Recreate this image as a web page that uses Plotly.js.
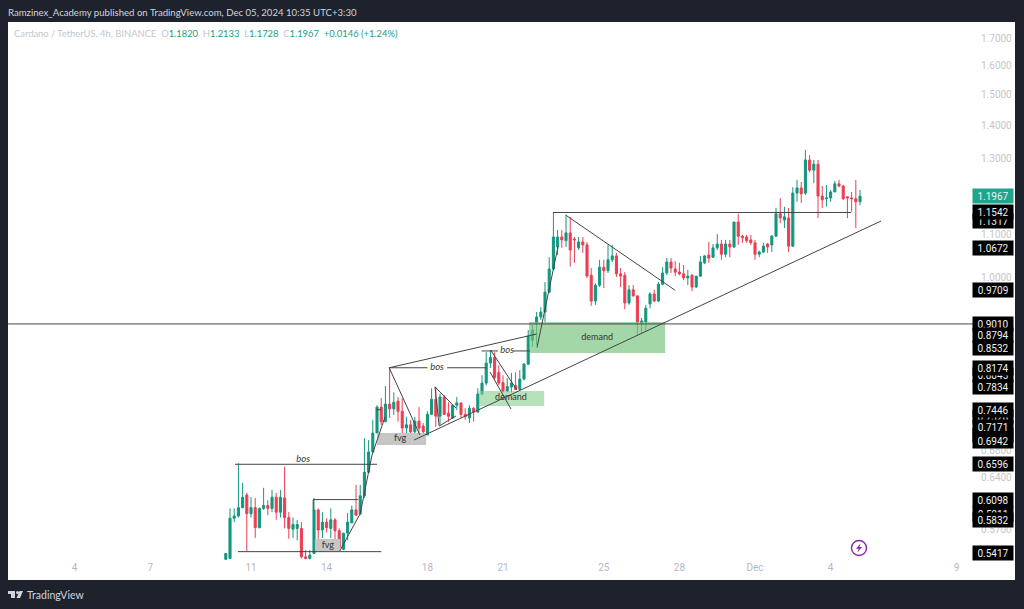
<!DOCTYPE html>
<html>
<head>
<meta charset="utf-8">
<script src="https://cdn.plot.ly/plotly-3.0.1.min.js"></script>
<style>html,body{margin:0;padding:0;background:#1e222d;overflow:hidden}</style>
</head>
<body>
<div id="chart" style="width:1024px;height:609px"></div>
<script>
// ---------- candle values (4h ADA/USDT), first bar 2024-11-10 00:00 ----------
const opens = [.534,
.535,.585,.588,.599,.616,.591,.599,.573,.598,.602,
.598,.613,.593,.612,.586,.571,.572,.572,.537,.535,
.541,.596,.570,.580,.572,.583,.569,.546,.566,.579,
.596,.591,.615,.648,.678,.707,.749,.725,.754,.746,
.759,.742,.715,.720,.709,.726,.718,.704,.737,.762,
.734,.766,.739,.731,.752,.756,.737,.731,.747,.741,
.771,.790,.826,.836,.809,.791,.776,.783,.786,.779,
.797,.824,.869,.903,.915,.925,.967,1.018,1.069,1.093,
1.084,1.103,1.088,1.067,1.081,1.074,1.004,.948,.982,1.022,
1.014,1.039,1.048,1.007,1.004,.944,.972,.959,.903,.905,
.942,.963,.948,.984,1.009,1.034,1.018,1.011,1.007,.998,
1.004,.978,1.002,1.032,1.050,1.045,1.067,1.076,1.052,1.076,
1.069,1.130,1.095,1.093,1.086,1.079,1.052,1.057,1.076,1.074,
1.095,1.151,1.135,1.140,1.071,1.205,1.219,1.205,1.297,1.268,
1.285,1.197,1.190,1.192,1.208,1.230,1.224,1.195,1.192,1.190,
1.1820];
const highs = [.541,
.598,.598,.661,.633,.619,.613,.612,.599,.626,.609,
.623,.619,.623,.656,.593,.586,.583,.580,.545,.545,
.612,.598,.593,.585,.598,.585,.572,.566,.592,.602,
.630,.630,.699,.696,.728,.752,.764,.785,.817,.774,
.766,.764,.733,.728,.733,.749,.723,.742,.781,.783,
.772,.769,.757,.752,.766,.756,.747,.752,.749,.781,
.804,.846,.850,.846,.822,.804,.799,.808,.809,.813,
.826,.889,.899,.925,.935,.989,1.045,1.155,1.110,1.110,
1.148,1.143,1.093,1.093,1.093,1.081,1.020,.986,1.039,1.039,
1.074,1.074,1.055,1.020,1.011,.982,.982,.959,.913,.940,
.967,.972,.989,1.022,1.043,1.043,1.036,1.032,1.027,1.016,
1.007,1.002,1.048,1.050,1.081,1.076,1.100,1.086,1.086,1.086,
1.130,1.151,1.098,1.098,1.098,1.086,1.060,1.079,1.079,1.098,
1.166,1.192,1.169,1.166,1.221,1.241,1.235,1.326,1.311,1.297,
1.297,1.224,1.227,1.213,1.238,1.241,1.227,1.195,1.208,1.241,
1.2133];
const lows = [.534,
.535,.580,.586,.598,.544,.586,.560,.572,.596,.589,
.593,.583,.586,.572,.559,.560,.557,.535,.534,.534,
.541,.557,.560,.567,.560,.557,.545,.545,.557,.579,
.589,.589,.612,.647,.676,.707,.720,.725,.731,.736,
.725,.707,.707,.707,.707,.707,.704,.704,.736,.717,
.720,.736,.725,.730,.744,.731,.728,.723,.725,.739,
.769,.786,.817,.795,.786,.774,.774,.774,.778,.778,
.795,.822,.856,.860,.909,.905,.965,1.016,1.050,1.067,
1.069,1.023,1.032,1.062,1.055,.998,.938,.940,.978,.976,
1.009,1.034,1.000,.978,.931,.940,.957,.879,.883,.885,
.933,.946,.946,.982,1.004,1.009,1.002,1.004,.993,.982,
.969,.976,1.000,1.029,1.032,1.043,1.062,1.039,1.045,1.045,
1.067,1.074,1.079,1.079,1.074,1.039,1.045,1.055,1.055,1.057,
1.093,1.127,1.115,1.057,1.069,1.182,1.179,1.200,1.262,1.232,
1.140,1.166,1.169,1.182,1.208,1.221,1.187,1.140,1.156,1.115,
1.1728];
const closes = [.541,
.585,.588,.599,.613,.591,.599,.573,.598,.602,.598,
.613,.593,.613,.586,.572,.577,.577,.537,.535,.539,
.596,.570,.580,.573,.583,.569,.548,.566,.580,.596,
.589,.615,.648,.678,.707,.749,.725,.754,.746,.757,
.742,.715,.720,.709,.726,.715,.709,.737,.762,.734,
.766,.737,.734,.752,.756,.737,.733,.747,.741,.771,
.790,.826,.836,.800,.790,.776,.784,.790,.779,.797,
.824,.877,.889,.915,.925,.967,1.018,1.093,1.093,1.086,
1.103,1.062,1.086,1.081,1.074,1.002,.948,.982,1.022,1.014,
1.039,1.048,1.007,1.002,.944,.972,.959,.905,.907,.933,
.963,.948,.984,1.009,1.034,1.020,1.011,1.007,.998,1.002,
.978,1.002,1.034,1.048,1.043,1.067,1.076,1.052,1.076,1.069,
1.130,1.095,1.091,1.084,1.079,1.052,1.057,1.071,1.069,1.095,
1.151,1.140,1.143,1.071,1.205,1.219,1.203,1.297,1.268,1.285,
1.197,1.187,1.192,1.208,1.230,1.224,1.190,1.192,1.190,1.182,
1.1967];

// ---------- axis labels ----------
const priceTicks = [1.7,1.6,1.5,1.4,1.3,1.1,1.0,0.68,0.64,0.57];
const dayTicks = ['2024-11-04','2024-11-07','2024-11-11','2024-11-14','2024-11-18','2024-11-21','2024-11-25','2024-11-28','2024-12-01','2024-12-04','2024-12-09'];
const dayLabels = ['4','7','11','14','18','21','25','28','Dec','4','9'];
const priceBoxesHidden = ['1.1317','0.8045','0.7326','0.7040','0.5911'];
const priceBoxes = ['0.9010','0.8794','0.8532','1.1542','1.0672','0.9709','0.8174','0.7834','0.7446','0.7171','0.6942','0.6596','0.6098','0.5832','0.5417'];
const lastPrice = '1.1967';

// ---------- drawings: bar number (4h bars) and price ----------
const bosLowLine   = {bar:[1.2,35],           price:[.6596,.6596]};
const floorLine    = {bar:[1.9,36],           price:[.5432,.5432]};
const boxTopLine   = {bar:[19.8,19.8,30.5],   price:[.596,.6098,.6098]};
const impulseCurve = {bar:[26.1,31,33.8,36.9],price:[.5437,.5911,.673,.7326]};
const hookLine     = {bar:[34.8,36],          price:[.7446,.7446]};
const peakDrop     = {bar:[37.9,45.2],        price:[.8174,.704]};
const bosMidLeft   = {bar:[37.9,47],          price:[.8174,.8174]};
const bosMidRight  = {bar:[51.7,61],          price:[.8174,.8174]};
const peakRise     = {bar:[37.9,73],          price:[.8174,.881]};
const bosUpLeft    = {bar:[59.9,63.8],        price:[.8485,.8485]};
const bosUpRight   = {bar:[67.4,71.4],        price:[.8485,.8485]};
const triangle     = {bar:[53.8,48.8,49.8,53.8],price:[.7474,.7834,.7181,.7343]};
const mainTrend    = {bar:[43.8,155],         price:[.696,1.1325]};
const flagTop      = {bar:[62.1,68.3],        price:[.8498,.778]};
const flagLow      = {bar:[61.9,66.9],        price:[.8097,.7458]};
const breakout     = {bar:[73.1,78.1],        price:[.855,1.07]};
const topLine      = {bar:[76.9,147.9],       price:[1.1542,1.1542]};
const descending   = {bar:[79.9,106],         price:[1.1477,.9709]};
const levelLine    = {bar:[-54,178],          price:[.9010,.9010]};
const lineDrawings = [bosLowLine,floorLine,boxTopLine,impulseCurve,hookLine,peakDrop,bosMidLeft,bosMidRight,peakRise,bosUpLeft,bosUpRight,triangle,mainTrend,flagTop,flagLow,breakout,topLine,descending,levelLine];

const zones = [
  {bar:[20.2,26.2],  price:[.5437,.5587], color:'#c6c6c6'},
  {bar:[35,46.7],    price:[.6885,.707],  color:'#c6c6c6'},
  {bar:[59.3,74.8],  price:[.7507,.7762], color:'rgba(135,205,140,0.6)'},
  {bar:[71.2,103.6], price:[.8446,.905],  color:'rgba(120,196,126,0.68)'}
];
const noteTexts  = ['fvg','fvg','demand','demand'];
const noteBars   = [23.3,40.5,66.9,87.4];
const notePrices = [.550,.698,.7642,.8732];
const bosTexts   = ['bos','bos','bos'];
const bosBars    = [17.4,49.3,66];
const bosPrices  = [.667,.8174,.8485];

// ---------- build ----------
const T0 = Date.UTC(2024,10,10,4);           // bar number 0
const H4 = 4*3600*1000;
const timeOf = b => T0 + b*H4;
const barNumbers = opens.map((_,i)=>i-1);

const fx = px => (px-8)/965;
const fy = py => (560-py)/538;
const path = pts => 'M'+pts.map(p=>fx(p[0])+','+fy(p[1])).join(' L')+' Z';

const UP='#12977f', DOWN='#ee3d52';
const traces = [{
  type:'candlestick',
  x:barNumbers.map(timeOf), open:opens, high:highs, low:lows, close:closes,
  increasing:{line:{color:UP,width:1},fillcolor:UP},
  decreasing:{line:{color:DOWN,width:1},fillcolor:DOWN},
  whiskerwidth:0, hoverinfo:'skip', showlegend:false
}];
zones.forEach(z=>traces.push({
  type:'scatter',mode:'lines',
  x:[z.bar[0],z.bar[1],z.bar[1],z.bar[0],z.bar[0]].map(timeOf),
  y:[z.price[0],z.price[0],z.price[1],z.price[1],z.price[0]],
  fill:'toself',fillcolor:z.color,line:{width:0},hoverinfo:'skip',showlegend:false
}));
lineDrawings.forEach(d=>traces.push({
  type:'scatter',mode:'lines',x:d.bar.map(timeOf),y:d.price,
  line:{color:'#444444',width:1},hoverinfo:'skip',showlegend:false
}));
traces.push({type:'scatter',mode:'text',x:noteBars.map(timeOf),y:notePrices,text:noteTexts,
  textposition:'middle center',textfont:{family:'Lato, sans-serif',size:9,color:'#333'},hoverinfo:'skip',showlegend:false});
traces.push({type:'scatter',mode:'text',x:bosBars.map(timeOf),y:bosPrices,text:bosTexts,
  textposition:'middle center',textfont:{family:'Lato, sans-serif',size:9.5,color:'#333',style:'italic'},hoverinfo:'skip',showlegend:false});

const box = (t,bg) => ({
  xref:'paper',yref:'y',x:fx(993),y:Math.log10(parseFloat(t)),xanchor:'center',yanchor:'middle',
  text:t,showarrow:false,bgcolor:bg,width:40,height:14,borderpad:0,align:'center',
  font:{family:'Roboto, sans-serif',size:10,color:'#f2f2f2'}
});
const G='#1f9d85', L='#b5b8bf';
const legendHtml =
  '<span style="color:#c4c6cc">Cardano / TetherUS, 4h, BINANCE  O</span>'+
  '<span style="color:'+G+'">1.1820</span><span style="color:#c4c6cc">  H</span>'+
  '<span style="color:'+G+'">1.2133</span><span style="color:#c4c6cc">  L</span>'+
  '<span style="color:'+G+'">1.1728</span><span style="color:#c4c6cc">  C</span>'+
  '<span style="color:'+G+'">1.1967  +0.0146 (+1.24%)</span>';
const annotations = [
  ...priceBoxesHidden.map(t=>box(t,'#000')),
  ...priceBoxes.map(t=>box(t,'#000')),
  box(lastPrice,'#1fa58c'),
  {xref:'paper',yref:'paper',x:fx(6),y:fy(12),xanchor:'left',yanchor:'middle',showarrow:false,
   text:'Ramzinex_Academy published on TradingView.com, Dec 05, 2024 10:35 UTC+3:30',
   font:{family:'Lato, sans-serif',size:9.6,color:'#d1d4dc'}},
  {xref:'paper',yref:'paper',x:fx(12),y:fy(33),xanchor:'left',yanchor:'middle',showarrow:false,
   text:legendHtml,font:{family:'Lato, sans-serif',size:9.4,color:L}},
  {xref:'paper',yref:'paper',x:fx(25),y:fy(595),xanchor:'left',yanchor:'middle',showarrow:false,
   text:'TradingView',font:{family:'Lato, sans-serif',size:10.5,color:'#d1d4dc'}}
];

const shapes = [
  {type:'rect',xref:'paper',yref:'paper',x0:0,x1:fx(1015),y0:fy(580),y1:1,fillcolor:'#ffffff',line:{width:0},layer:'below'},
  {type:'path',xref:'paper',yref:'paper',path:path([[8,591],[15,591],[15,598],[11,598],[11,594],[8,594]]),fillcolor:'#d1d4dc',line:{width:0}},
  {type:'circle',xref:'paper',yref:'paper',x0:fx(16),x1:fx(19),y0:fy(594),y1:fy(591),fillcolor:'#d1d4dc',line:{width:0}},
  {type:'path',xref:'paper',yref:'paper',path:path([[23,591],[20,598],[16.5,598],[19.5,591]]),fillcolor:'#d1d4dc',line:{width:0}},
  {type:'circle',xref:'paper',yref:'paper',x0:fx(851.5),x1:fx(866.5),y0:fy(555.5),y1:fy(540.5),fillcolor:'rgba(0,0,0,0)',line:{color:'#8e24aa',width:1.4}},
  {type:'path',xref:'paper',yref:'paper',path:path([[860.5,543.5],[856,548.8],[858.6,548.8],[857.5,552.5],[862,547],[859.4,547]]),fillcolor:'#8e24aa',line:{width:0}}
];

const layout = {
  width:1024,height:609,autosize:false,
  margin:{l:8,r:51,t:22,b:49,pad:0},
  paper_bgcolor:'#1e222d',plot_bgcolor:'rgba(0,0,0,0)',
  showlegend:false,
  xaxis:{type:'date',range:['2024-11-01 08:34','2024-12-09 15:36'],tickmode:'array',tickvals:dayTicks,ticktext:dayLabels,
    tickfont:{family:'Roboto, sans-serif',size:10,color:'#b5b8bf'},showgrid:false,zeroline:false,showline:false,ticks:'',rangeslider:{visible:false},fixedrange:true},
  yaxis:{type:'log',side:'right',range:[-0.2731,0.2461],tickmode:'array',tickvals:priceTicks,ticktext:priceTicks.map(v=>v.toFixed(4)),
    tickfont:{family:'Roboto, sans-serif',size:10,color:'#c4c6cc'},showgrid:false,zeroline:false,showline:false,
    ticks:'outside',ticklen:5,tickcolor:'rgba(0,0,0,0)',fixedrange:true},
  annotations,shapes
};
Plotly.newPlot('chart',traces,layout,{displayModeBar:false,staticPlot:true});
</script>
</body>
</html>
